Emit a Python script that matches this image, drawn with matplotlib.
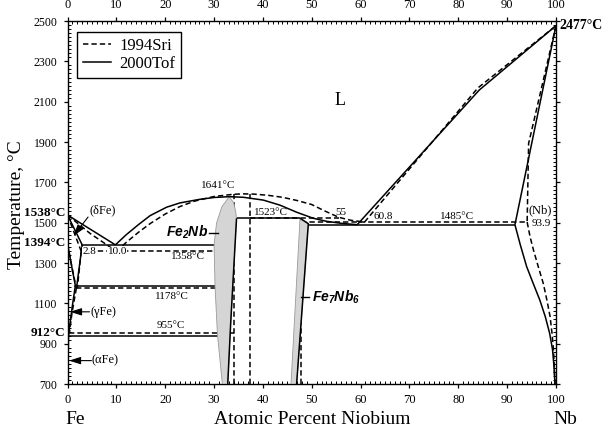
import matplotlib
matplotlib.use('Agg')
import matplotlib.pyplot as plt
from matplotlib.ticker import MultipleLocator
from matplotlib.lines import Line2D
from matplotlib.transforms import blended_transform_factory

plt.rcParams['font.family'] = 'serif'
plt.rcParams['font.serif'] = ['Liberation Serif', 'DejaVu Serif']
plt.rcParams['mathtext.fontset'] = 'custom'
plt.rcParams['mathtext.rm'] = 'Liberation Sans:bold:italic'
plt.rcParams['mathtext.it'] = 'Liberation Sans:bold:italic'
plt.rcParams['mathtext.bf'] = 'Liberation Sans:bold:italic'

# ---------------- 2000Tof (solid lines) ----------------
tof_liq_fe_x = [0, 9.8]
tof_liq_fe_T = [1538, 1390]
tof_dsol_x = [0, 3.0]
tof_dsol_T = [1538, 1390]
tof_dsolv_x = [3.0, 1.9]
tof_dsolv_T = [1390, 1188]
tof_gup_x = [0, 0.8, 1.6]
tof_gup_T = [1394, 1290, 1188]
tof_glow_x = [1.6, 1.0, 0.5, 0.2]
tof_glow_T = [1188, 1090, 1000, 938]
tof_alpha_x = [0.2, 0.12, 0.05]
tof_alpha_T = [938, 820, 700]
tof_iso_T = [1390, 1188, 938]
tof_iso_x0 = [3.0, 1.6, 0.2]
tof_iso_x1 = 31.0
tof_liq_x = [9.8, 12, 14.5, 16.9, 20.3, 23, 27.1, 30, 33.1, 36, 40.1, 43.5,
             46.9, 50.3, 53, 56, 59.3]
tof_liq_T = [1390, 1440, 1490, 1535, 1577, 1598, 1616, 1625, 1629, 1626, 1612,
             1587, 1552, 1522, 1507, 1497, 1490]
tof_liq_nb_x = [59.3, 84.3, 100]
tof_liq_nb_T = [1490, 2158, 2477]
tof_nbsol_x = [100, 91.6]
tof_nbsol_T = [2477, 1490]
tof_nbsolv_x = [91.6, 92.7, 94.0, 95.4, 96.7, 97.8, 98.7, 99.3, 99.6, 99.8]
tof_nbsolv_T = [1490, 1390, 1282, 1195, 1116, 1035, 952, 870, 786, 700]
tof_fe2nb_left_x = [31.7, 30.7, 30.2, 30.0, 30.5, 31.6, 33.1]
tof_fe2nb_left_T = [700, 943, 1182, 1389, 1497, 1579, 1629]
tof_fe2nb_right_x = [33.1, 34.0, 34.4, 34.6, 33.4, 32.8]
tof_fe2nb_right_T = [1629, 1600, 1560, 1522, 1000, 700]
tof_mu_x = [45.75, 47.6, 49.3, 46.9]
tof_mu_T = [700, 1522, 1495, 700]
tof_per_T = 1522
tof_per_x = [34.6, 47.6]
tof_eut_T = 1490
tof_eut_x = [49.3, 91.6]

# ---------------- 1994Sri (dashed lines) ----------------
sri_liq_fe_x = [0, 4.6, 10.0]
sri_liq_fe_T = [1538, 1447, 1358]
sri_dsol_x = [0, 2.8]
sri_dsol_T = [1538, 1358]
sri_dsolv_x = [2.8, 2.0]
sri_dsolv_T = [1358, 1175]
sri_gup_x = [0, 0.9, 1.8]
sri_gup_T = [1394, 1280, 1175]
sri_glow_x = [1.8, 0.9, 0.4]
sri_glow_T = [1175, 1050, 955]
sri_iso_T = [1358, 1175, 955]
sri_iso_x0 = [2.8, 1.8, 0.4]
sri_iso_x1 = 34.1
sri_fe2nb_x = [34.1, 37.4]
sri_fe2nb_top = [1641, 1643]
sri_liq_x = [10, 12, 14.5, 17, 20, 23, 26, 30, 34, 36, 38, 41, 44, 47, 50,
             52.5, 55.5, 58, 60.8]
sri_liq_T = [1358, 1402, 1452, 1497, 1543, 1580, 1607, 1630, 1641, 1643, 1642,
             1636, 1626, 1610, 1590, 1560, 1527, 1512, 1503]
sri_liq_nb_x = [60.8, 84.0, 100]
sri_liq_nb_T = [1503, 2168, 2477]
sri_nbsol_x = [100, 94.4, 94.1]
sri_nbsol_T = [2477, 1893, 1503]
sri_nbsolv_x = [94.1, 94.7, 95.4, 96.4, 97.4, 98.2, 98.8, 99.2, 99.5, 99.8]
sri_nbsolv_T = [1503, 1430, 1364, 1280, 1199, 1110, 1034, 950, 869, 700]
sri_mu_x = 47.7
sri_mu_top = 1525
sri_per_T = 1525
sri_per_x = [37.4, 55.5]
sri_eut_T = 1503
sri_eut_x = [47.7, 94.1]

x_ticks = list(range(0, 101, 10))
y_ticks = list(range(700, 2501, 200))

# ---------------- figure ----------------
fig = plt.figure(figsize=(6.03, 4.28), dpi=100)
ax = fig.add_axes([0.112, 0.1028, 0.810, 0.848])
ax.set_xlim(0, 100)
ax.set_ylim(700, 2500)

LW = 1.1
DASH = (0, (3.5, 2.0))
sk = dict(color='k', lw=LW, solid_capstyle='butt', zorder=4)
dk = dict(color='k', lw=LW, ls=DASH, zorder=2)

# dashed (1994Sri)
for xs, ts in [(sri_liq_fe_x, sri_liq_fe_T), (sri_dsol_x, sri_dsol_T),
               (sri_dsolv_x, sri_dsolv_T), (sri_gup_x, sri_gup_T),
               (sri_glow_x, sri_glow_T), (sri_liq_x, sri_liq_T),
               (sri_liq_nb_x, sri_liq_nb_T), (sri_nbsol_x, sri_nbsol_T),
               (sri_nbsolv_x, sri_nbsolv_T)]:
    ax.plot(xs, ts, **dk)
for t, x0 in zip(sri_iso_T, sri_iso_x0):
    ax.plot([x0, sri_iso_x1], [t, t], **dk)
for xv, tt in zip(sri_fe2nb_x, sri_fe2nb_top):
    ax.plot([xv, xv], [700, tt], **dk)
ax.plot([sri_mu_x, sri_mu_x], [700, sri_mu_top], **dk)
ax.plot(sri_per_x, [sri_per_T] * 2, **dk)
ax.plot(sri_eut_x, [sri_eut_T] * 2, **dk)

# solid horizontals below the gray phase fields
for t, x0 in zip(tof_iso_T, tof_iso_x0):
    ax.plot([x0, tof_iso_x1], [t, t], color='k', lw=LW, zorder=2)

# gray phase fields (2000Tof)
lens_x = tof_fe2nb_left_x + tof_fe2nb_right_x[1:]
lens_T = tof_fe2nb_left_T + tof_fe2nb_right_T[1:]
ax.fill(lens_x, lens_T, facecolor='#d5d5d5', edgecolor='#9a9a9a', lw=0.6, zorder=3)
ax.fill(tof_mu_x, tof_mu_T, facecolor='#d5d5d5', edgecolor='#9a9a9a', lw=0.6, zorder=3)

# solid (2000Tof)
for xs, ts in [(tof_liq_fe_x, tof_liq_fe_T), (tof_dsol_x, tof_dsol_T),
               (tof_dsolv_x, tof_dsolv_T), (tof_gup_x, tof_gup_T),
               (tof_glow_x, tof_glow_T), (tof_alpha_x, tof_alpha_T),
               (tof_liq_x, tof_liq_T), (tof_liq_nb_x, tof_liq_nb_T),
               (tof_nbsol_x, tof_nbsol_T), (tof_nbsolv_x, tof_nbsolv_T),
               (tof_fe2nb_right_x[3:], tof_fe2nb_right_T[3:]),
               (tof_mu_x[1:], tof_mu_T[1:])]:
    ax.plot(xs, ts, **sk)
ax.plot(tof_per_x, [tof_per_T] * 2, **sk)
ax.plot(tof_eut_x, [tof_eut_T] * 2, **sk)

# ---------------- annotations ----------------
fs_s = 8
ax.text(55.8, 2108, 'L', fontsize=13, ha='center', va='center')
ax.text(30.8, 1682, '1641°C', fontsize=fs_s, ha='center', va='center')
ax.text(41.7, 1553, '1523°C', fontsize=fs_s, ha='center', va='center')
ax.text(56.0, 1553, '55', fontsize=fs_s, ha='center', va='center')
ax.text(64.6, 1533, '60.8', fontsize=fs_s, ha='center', va='center')
ax.text(79.7, 1531, '1485°C', fontsize=fs_s, ha='center', va='center')
ax.text(94.3, 1560, '(Nb)', fontsize=9, ha='left', va='center')
ax.text(95.0, 1497, '93.9', fontsize=fs_s, ha='left', va='center')
ax.text(24.7, 1330, '1358°C', fontsize=fs_s, ha='center', va='center')
ax.text(21.4, 1136, '1178°C', fontsize=fs_s, ha='center', va='center')
ax.text(21.2, 990, '955°C', fontsize=fs_s, ha='center', va='center')
wb = dict(facecolor='white', edgecolor='none', pad=0.3)
ax.text(4.4, 1356, '2.8', fontsize=fs_s, ha='center', va='center', bbox=wb, zorder=6)
ax.text(10.2, 1356, '10.0', fontsize=fs_s, ha='center', va='center', bbox=wb, zorder=6)

ax.text(7.1, 1562, '(δFe)', fontsize=9, ha='center', va='center')
ap = dict(arrowstyle='-|>,head_length=0.7,head_width=0.22', lw=0.8, color='k',
          shrinkA=0, shrinkB=0, mutation_scale=10)
ax.annotate('', xy=(1.2, 1434), xytext=(4.2, 1528), arrowprops=ap, zorder=6)
ax.text(4.6, 1058, '(γFe)', fontsize=9, ha='left', va='center')
ax.annotate('', xy=(0.5, 1058), xytext=(4.5, 1058), arrowprops=ap, zorder=6)
ax.text(5.0, 816, '(αFe)', fontsize=9, ha='left', va='center')
ax.annotate('', xy=(0.3, 816), xytext=(4.9, 816), arrowprops=ap, zorder=6)

ax.text(28.8, 1450, r'$Fe_2Nb$', fontsize=10, ha='right', va='center')
ax.plot([29.0, 30.9], [1450, 1450], color='k', lw=1.0, zorder=5)
ax.text(50.0, 1130, r'$Fe_7Nb_6$', fontsize=10, ha='left', va='center')
ax.plot([47.8, 49.4], [1130, 1130], color='k', lw=1.0, zorder=5)

tr = blended_transform_factory(ax.transAxes, ax.transData)
ax.text(-0.005, 1550, '1538°C', transform=tr, fontsize=9.5, fontweight='bold',
        ha='right', va='center')
ax.text(-0.005, 1398, '1394°C', transform=tr, fontsize=9.5, fontweight='bold',
        ha='right', va='center')
ax.text(-0.005, 952, '912°C', transform=tr, fontsize=9.5, fontweight='bold',
        ha='right', va='center')
ax.text(1.006, 2480, '2477°C', transform=tr, fontsize=10, fontweight='bold',
        ha='left', va='center')

# ---------------- axes styling ----------------
ax.set_xticks(x_ticks)
ax.set_yticks(y_ticks)
ax.xaxis.set_minor_locator(MultipleLocator(1))
ax.yaxis.set_minor_locator(MultipleLocator(20))
ax.tick_params(which='both', top=True, right=True, labeltop=True, labelright=False,
               labelsize=9, pad=4)
ax.tick_params(which='major', direction='out', length=3.2, width=0.9)
ax.tick_params(which='minor', direction='in', length=2.0, width=0.7)
ax.tick_params(axis='y', which='major', labelsize=8.5)
for s in ax.spines.values():
    s.set_linewidth(1.0)

fig.text(0.0277, 0.521, 'Temperature, °C', rotation=90, fontsize=14,
         ha='center', va='center')
fig.text((0.112 + 0.922) / 2, 0.0187, 'Atomic Percent Niobium', fontsize=14,
         ha='center', va='center')
fig.text(75 / 603, 0.0187, 'Fe', fontsize=14, ha='center', va='center')
fig.text(565.5 / 603, 0.0187, 'Nb', fontsize=14, ha='center', va='center')

handles = [Line2D([], [], color='k', lw=LW, ls=DASH),
           Line2D([], [], color='k', lw=LW)]
leg = ax.legend(handles, ['1994Sri', '2000Tof'], loc='upper left',
                bbox_to_anchor=(0.019, 0.97), borderaxespad=0, fontsize=12,
                frameon=True, fancybox=False, edgecolor='k', framealpha=1,
                handlelength=1.7, handletextpad=0.5, labelspacing=0.15,
                borderpad=0.35)
leg.get_frame().set_linewidth(1.0)
leg.set_zorder(7)

fig.savefig('out.png', dpi=100)
